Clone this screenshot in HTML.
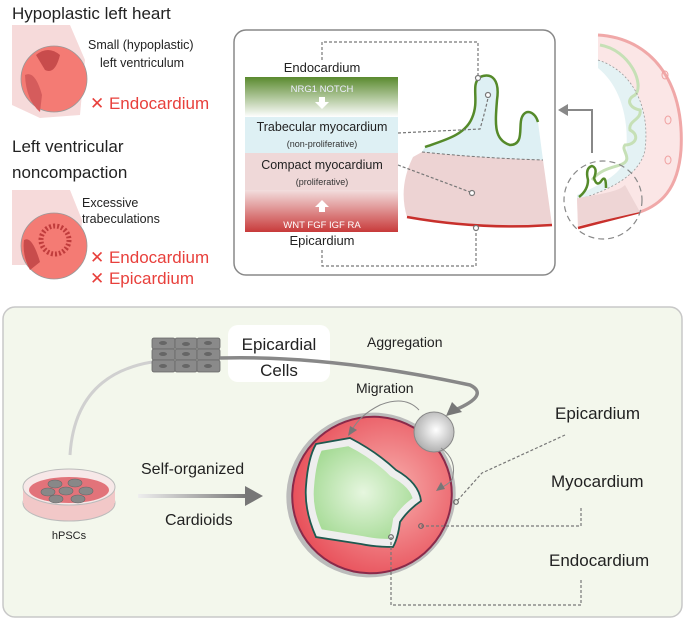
<!DOCTYPE html>
<html><head><meta charset="utf-8"><style>
html,body{margin:0;padding:0;background:#fff;}
svg{display:block;font-family:"Liberation Sans",sans-serif;}
</style></head><body>
<svg width="685" height="621" viewBox="0 0 685 621" xmlns="http://www.w3.org/2000/svg">
<defs>
<linearGradient id="gG" x1="0" y1="0" x2="0" y2="1"><stop offset="0" stop-color="#5a8a2e"/><stop offset="1" stop-color="#ffffff"/></linearGradient>
<linearGradient id="gR" x1="0" y1="0" x2="0" y2="1"><stop offset="0" stop-color="#f3dede"/><stop offset="1" stop-color="#c83a3a"/></linearGradient>
<linearGradient id="gA" x1="0" y1="0" x2="1" y2="0"><stop offset="0" stop-color="#eee"/><stop offset="1" stop-color="#777"/></linearGradient>
<radialGradient id="rR" cx="0.6" cy="0.5" r="0.6"><stop offset="0" stop-color="#f8b0ae"/><stop offset="1" stop-color="#e8505a"/></radialGradient>
<radialGradient id="rG" cx="0.5" cy="0.5" r="0.6"><stop offset="0" stop-color="#e6f6df"/><stop offset="1" stop-color="#9fd88e"/></radialGradient>
<radialGradient id="rB" cx="0.55" cy="0.45" r="0.6"><stop offset="0" stop-color="#fff"/><stop offset="1" stop-color="#aaa"/></radialGradient>
</defs>

<!-- left texts -->
<text x="12" y="19" font-size="17" fill="#222">Hypoplastic left heart</text>
<text x="88" y="49" font-size="12.5" fill="#222">Small (hypoplastic)</text>
<text x="100" y="67" font-size="12.5" fill="#222">left ventriculum</text>
<text x="90" y="109" font-size="17" fill="#e8403c">✕ Endocardium</text>
<text x="12" y="152" font-size="17" fill="#222">Left ventricular</text>
<text x="12" y="178" font-size="17" fill="#222">noncompaction</text>
<text x="82" y="207" font-size="12.5" fill="#222">Excessive</text>
<text x="82" y="223" font-size="12.5" fill="#222">trabeculations</text>
<text x="90" y="263" font-size="17" fill="#e8403c">✕ Endocardium</text>
<text x="90" y="284" font-size="17" fill="#e8403c">✕ Epicardium</text>

<!-- heart 1 -->
<path d="M12 25 L70 25 L85 60 L80 115 L40 118 L12 105 Z" fill="#f6dada"/>
<circle cx="54" cy="79" r="33" fill="#f47b74" stroke="#999" stroke-width="0.8"/>
<path d="M36 55 Q48 45 60 55 Q55 75 45 70 Z" fill="#c84c4c"/>
<path d="M25 75 Q35 70 42 95 L40 112 Q26 100 25 75Z" fill="#d55c5c"/>
<!-- heart 2 -->
<path d="M12 190 L70 190 L82 220 L80 265 L12 265 Z" fill="#f6dada"/>
<circle cx="54" cy="246" r="33" fill="#f47b74" stroke="#999" stroke-width="0.8"/>
<circle cx="55" cy="240" r="14" fill="none" stroke="#c03c3c" stroke-width="5" stroke-dasharray="2 2"/>
<path d="M24 240 Q32 235 40 262 L30 270 Q22 255 24 240Z" fill="#c84c4c"/>

<!-- top box -->
<rect x="234" y="30" width="321" height="245" rx="12" fill="#fff" stroke="#888" stroke-width="1.5"/>
<text x="322" y="72" font-size="13" fill="#222" text-anchor="middle">Endocardium</text>
<rect x="245" y="77" width="153" height="40" fill="url(#gG)"/>
<rect x="245" y="117" width="153" height="36" fill="#def0f4"/>
<rect x="245" y="153" width="153" height="37" fill="#efd8d8"/>
<rect x="245" y="190" width="153" height="42" fill="url(#gR)"/>
<text x="322" y="92" font-size="9.5" fill="#eef" text-anchor="middle">NRG1 NOTCH</text>
<path d="M319 97 h6 v5 h4 l-7 7 l-7 -7 h4Z" fill="#fff"/>
<text x="322" y="131" font-size="12.5" fill="#222" text-anchor="middle">Trabecular myocardium</text>
<text x="322" y="147" font-size="9" fill="#333" text-anchor="middle">(non-proliferative)</text>
<text x="322" y="169" font-size="12.5" fill="#222" text-anchor="middle">Compact myocardium</text>
<text x="322" y="185" font-size="9" fill="#333" text-anchor="middle">(proliferative)</text>
<path d="M319 212 h6 v-5 h4 l-7 -7 l-7 7 h4Z" fill="#fff"/>
<text x="322" y="228" font-size="9.5" fill="#fff" text-anchor="middle">WNT FGF IGF RA</text>
<text x="322" y="245" font-size="13" fill="#222" text-anchor="middle">Epicardium</text>

<!-- tissue -->
<path d="M425 147 C445 140 465 135 472 118 C480 100 470 85 480 77 C492 72 500 80 497 100 C495 125 494 140 510 145 C525 145 518 125 522 117 C526 108 535 112 538 122 L543 160 Q480 158 422 152Z" fill="#def0f4"/>
<path d="M422 152 Q480 158 543 160 L552 225 Q480 230 407 217 Q398 187 413 157 Z" fill="#edd3d3"/>
<path d="M422 152 Q480 158 543 160" fill="none" stroke="#777" stroke-width="1" stroke-dasharray="3 2"/>
<path d="M425 147 C445 140 465 135 472 118 C480 100 470 85 480 77 C492 72 500 80 497 100 C495 125 494 140 510 145 C525 145 518 125 522 117 C526 108 535 112 538 122" fill="none" stroke="#558a2a" stroke-width="2.5"/>
<path d="M407 217 Q480 230 552 225" fill="none" stroke="#c8302c" stroke-width="2.5"/>
<!-- dashed connectors top -->
<g fill="none" stroke="#777" stroke-width="1.2" stroke-dasharray="3 2">
<path d="M322 60 V42 H478 V76"/>
<path d="M398 133 L480 129 Q485 112 488 98"/>
<path d="M398 165 L470 192"/>
<path d="M322 250 V266 H476 V231"/>
</g>
<g fill="#fff" stroke="#777" stroke-width="1.2">
<circle cx="478" cy="78" r="2.5"/><circle cx="488" cy="95" r="2.5"/><circle cx="472" cy="193" r="2.5"/><circle cx="476" cy="228" r="2.5"/>
</g>

<!-- right arc -->
<path d="M598 35 C650 38 685 80 681 150 C678 190 655 210 640 212 L578 228 L577 200 C610 190 640 175 645 150 C650 110 635 72 598 60 Z" fill="#fbe6e6"/>
<path d="M598 35 C650 38 685 80 681 150 C678 190 660 205 640 212" fill="none" stroke="#f0a8a8" stroke-width="3"/>
<path d="M640 212 L578 228" fill="none" stroke="#c8302c" stroke-width="2.5"/>
<path d="M598 60 C635 72 650 110 645 150 C640 175 610 190 577 200 L577 195 C600 185 620 175 625 160 C630 130 625 90 598 68Z" fill="#e4f2f4"/>
<path d="M600 45 C630 50 645 85 635 95 C625 100 630 108 640 110 C642 120 628 120 630 130 C640 135 636 145 625 145 C620 150 635 160 620 165 C610 168 600 170 592 180" fill="none" stroke="#c6e0b6" stroke-width="3"/>
<path d="M598 60 C635 72 650 110 645 150 C640 175 610 190 577 200" fill="none" stroke="#999" stroke-width="0.8" stroke-dasharray="2 2"/>
<ellipse cx="665" cy="75" rx="3" ry="4" fill="none" stroke="#f0a0a0"/>
<ellipse cx="668" cy="120" rx="3" ry="4" fill="none" stroke="#f0a0a0"/>
<ellipse cx="668" cy="160" rx="3" ry="4" fill="none" stroke="#f0a0a0"/>
<path d="M577 198 C610 193 620 190 625 185 L640 212 L578 226Z" fill="#eed5d5"/>
<path d="M579 197 Q588 190 588 180 Q585 168 592 166 Q598 168 594 178 Q597 188 602 180 Q606 175 606 188" fill="none" stroke="#558a2a" stroke-width="2.5"/>
<circle cx="603" cy="200" r="39" fill="none" stroke="#888" stroke-width="1.2" stroke-dasharray="6 4"/>
<path d="M592 153 V110 H566" fill="none" stroke="#888" stroke-width="2"/>
<path d="M558 110 L568 104 L568 116Z" fill="#888"/>

<!-- bottom panel -->
<rect x="3" y="307" width="679" height="310" rx="12" fill="#f3f7ec" stroke="#c8c8c8" stroke-width="1.5"/>
<path d="M70 455 Q75 375 152 362" fill="none" stroke="#d0d0d0" stroke-width="3"/>
<rect x="228" y="325" width="102" height="57" rx="10" fill="#fff"/>
<g fill="#8a8a8a" stroke="#666" stroke-width="0.8">
<rect x="152" y="338" width="23" height="11" rx="2"/><rect x="175" y="338" width="22" height="11" rx="2"/><rect x="197" y="338" width="23" height="11" rx="2"/>
<rect x="152" y="349" width="23" height="11" rx="2"/><rect x="175" y="349" width="22" height="11" rx="2"/><rect x="197" y="349" width="23" height="11" rx="2"/>
<rect x="152" y="360" width="23" height="12" rx="2"/><rect x="175" y="360" width="22" height="12" rx="2"/><rect x="197" y="360" width="23" height="12" rx="2"/>
</g>
<g fill="#666">
<ellipse cx="163" cy="343" rx="4" ry="2"/><ellipse cx="186" cy="344" rx="4" ry="2"/><ellipse cx="208" cy="343" rx="4" ry="2"/>
<ellipse cx="163" cy="354" rx="4" ry="2"/><ellipse cx="186" cy="354" rx="4" ry="2"/><ellipse cx="208" cy="354" rx="4" ry="2"/>
<ellipse cx="163" cy="366" rx="4" ry="2"/><ellipse cx="186" cy="366" rx="4" ry="2"/><ellipse cx="208" cy="366" rx="4" ry="2"/>
</g>
<text x="279" y="350" font-size="17" fill="#222" text-anchor="middle">Epicardial</text>
<text x="279" y="376" font-size="17" fill="#222" text-anchor="middle">Cells</text>
<text x="367" y="347" font-size="14" fill="#222">Aggregation</text>
<text x="356" y="393" font-size="14" fill="#222">Migration</text>
<text x="555" y="419" font-size="17" fill="#222">Epicardium</text>
<text x="551" y="487" font-size="17" fill="#222">Myocardium</text>
<text x="549" y="566" font-size="17" fill="#222">Endocardium</text>
<text x="141" y="474" font-size="16" fill="#222">Self-organized</text>
<text x="165" y="525" font-size="16" fill="#222">Cardioids</text>
<rect x="138" y="494" width="110" height="4" fill="url(#gA)"/>
<path d="M245 486 L263 496 L245 506Z" fill="#777"/>
<!-- dish -->
<ellipse cx="69" cy="503" rx="46" ry="18" fill="#f2c8c8" stroke="#bbb"/>
<rect x="23" y="487" width="92" height="16" fill="#f2c8c8"/>
<ellipse cx="69" cy="487" rx="46" ry="18" fill="#f7e8e8" stroke="#bbb"/>
<ellipse cx="69" cy="490" rx="40" ry="13" fill="#e2737a"/>
<g fill="#888" stroke="#666" stroke-width="0.6">
<ellipse cx="55" cy="484" rx="7" ry="4"/><ellipse cx="75" cy="483" rx="7" ry="4"/><ellipse cx="66" cy="491" rx="7" ry="4"/><ellipse cx="86" cy="491" rx="7" ry="4"/><ellipse cx="48" cy="492" rx="7" ry="4"/><ellipse cx="56" cy="499" rx="7" ry="4"/><ellipse cx="78" cy="499" rx="7" ry="4"/>
</g>
<text x="69" y="539" font-size="11" fill="#222" text-anchor="middle">hPSCs</text>
<!-- cardioid -->
<ellipse cx="371" cy="495" rx="85" ry="82" transform="rotate(-20 371 495)" fill="#bbb"/>
<ellipse cx="372" cy="495" rx="80" ry="78" transform="rotate(-20 372 495)" fill="url(#rR)" stroke="#8a2a4a" stroke-width="2"/>
<path d="M319 447 L349 442 Q375 455 393 473 Q415 485 417 500 Q405 508 397 520 Q395 535 391 543 Q375 543 362 540 L319 533 Q308 510 310 487 Q312 460 319 447Z" fill="url(#rG)" stroke="#eee" stroke-width="8"/>
<path d="M316 444 L350 438 Q377 452 396 470 Q419 483 421 501 Q408 510 400 522 Q398 538 393 547 Q375 547 361 544 L316 537 Q304 510 306 486 Q308 458 316 444Z" fill="none" stroke="#1e5a50" stroke-width="1.8"/>
<circle cx="434" cy="432" r="20" fill="url(#rB)" stroke="#888"/>
<path d="M220 358 Q330 355 470 385 Q490 395 455 410" fill="none" stroke="#888" stroke-width="3.5"/>
<path d="M446 416 L452 402 L462 412Z" fill="#777"/>
<path d="M419 410 Q405 395 380 405 Q360 415 352 430" fill="none" stroke="#888" stroke-width="1"/>
<path d="M348 436 L350 426 L357 430Z" fill="#777"/>
<path d="M441 448 Q458 460 452 480 Q446 486 440 488" fill="none" stroke="#888" stroke-width="1"/>
<path d="M436 491 L441 482 L445 489Z" fill="#777"/>
<g fill="none" stroke="#777" stroke-width="1.2" stroke-dasharray="3 2">
<path d="M565 435 L482 473 L456 502"/>
<path d="M421 526 H581 V508"/>
<path d="M391 537 V605 H581 V580"/>
</g>
<g fill="none" stroke="#666" stroke-width="1.2">
<circle cx="456" cy="502" r="2.3"/><circle cx="421" cy="526" r="2.3"/><circle cx="391" cy="537" r="2.3"/>
</g>
</svg>
</body></html>
